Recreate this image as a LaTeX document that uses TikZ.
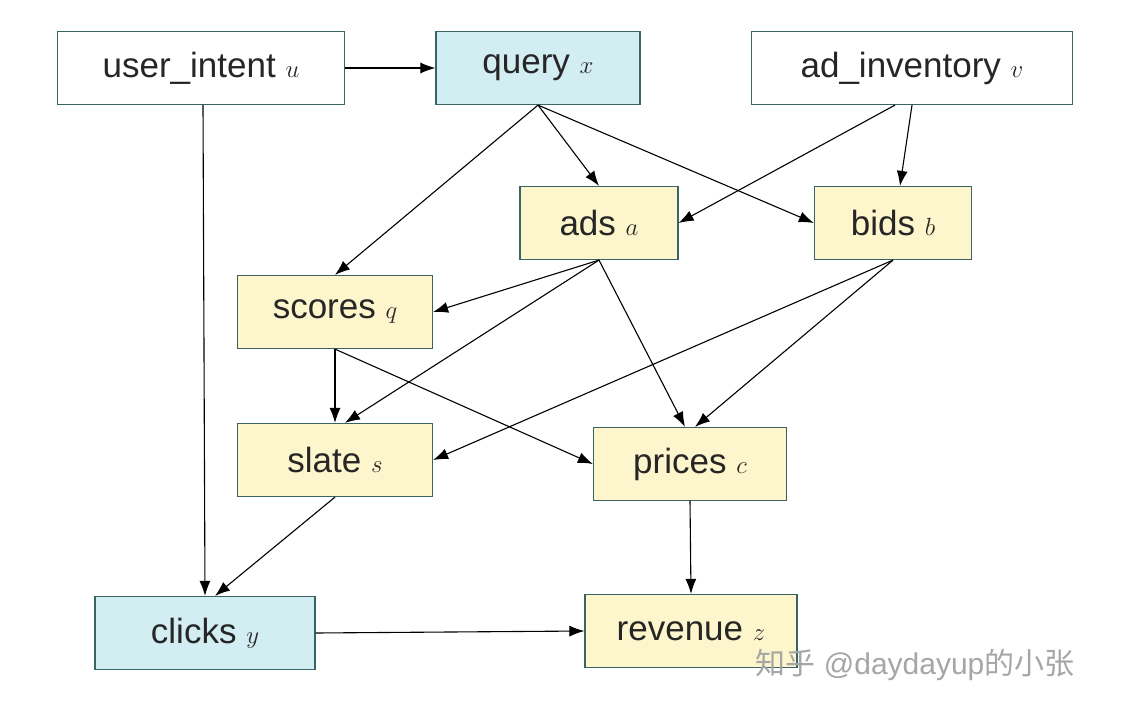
\documentclass[tikz,border=0pt]{standalone}
\usepackage{fontspec}
\setmainfont{Liberation Sans}
\newfontfamily\cjk{Noto Sans CJK SC}
\usetikzlibrary{arrows.meta}
\definecolor{cy}{HTML}{D2EEF3}
\definecolor{yl}{HTML}{FDF5CC}
\definecolor{bd}{HTML}{3A6464}
\begin{document}
\begin{tikzpicture}[x=1pt,y=-1pt,
  box/.style={draw=bd,line width=1.2pt,minimum height=73pt,inner sep=0pt,font=\fontsize{35}{40}\selectfont,text=black!85},
  e/.style={line width=1.1pt,-{Latex[length=15pt,width=11pt]}}]
\useasboundingbox (0,0) rectangle (1126,719);
\fill[white] (0,0) rectangle (1126,719);
\node[box,fill=white,minimum width=287pt] (ui) at (201,68) {user\_intent $u$};
\node[box,fill=cy,minimum width=204pt] (q) at (538,68) {query $x$};
\node[box,fill=white,minimum width=321pt] (inv) at (912,68) {ad\_inventory $v$};
\node[box,fill=yl,minimum width=158pt] (a) at (599,223) {ads $a$};
\node[box,fill=yl,minimum width=157pt] (b) at (893,223) {bids $b$};
\node[box,fill=yl,minimum width=195pt] (sc) at (335,312) {scores $q$};
\node[box,fill=yl,minimum width=195pt] (sl) at (335,460) {slate $s$};
\node[box,fill=yl,minimum width=193pt] (p) at (690,464) {prices $c$};
\node[box,fill=cy,minimum width=220pt] (cl) at (205,633) {clicks $y$};
\node[box,fill=yl,minimum width=212pt] (r) at (691,631) {revenue $z$};
\draw[e] (ui.east) -- (q.west);
\draw[e] ([xshift=2pt]ui.south) -- (cl.north);
\draw[e] (q.south) -- (a.north);
\draw[e] (q.south) -- (b.west);
\draw[e] (q.south) -- (sc.north);
\draw[e] ([xshift=-17pt]inv.south) -- (a.east);
\draw[e] (inv.south) -- ([xshift=7pt]b.north);
\draw[e] (a.south) -- (sc.east);
\draw[e] (a.south) -- ([xshift=10pt]sl.north);
\draw[e] (a.south) -- ([xshift=-5pt]p.north);
\draw[e] (b.south) -- (sl.east);
\draw[e] (b.south) -- ([xshift=5pt]p.north);
\draw[e] (sc.south) -- (sl.north);
\draw[e] (sc.south) -- (p.west);
\draw[e] (sl.south) -- ([xshift=10pt]cl.north);
\draw[e] (p.south) -- (r.north);
\draw[e] (cl.east) -- (r.west);
\node[text=black!35,font=\fontsize{30}{34}\selectfont] (wm) at (915,665) {{\cjk 知乎} @daydayup{\cjk 的小张}};
\end{tikzpicture}
\end{document}
